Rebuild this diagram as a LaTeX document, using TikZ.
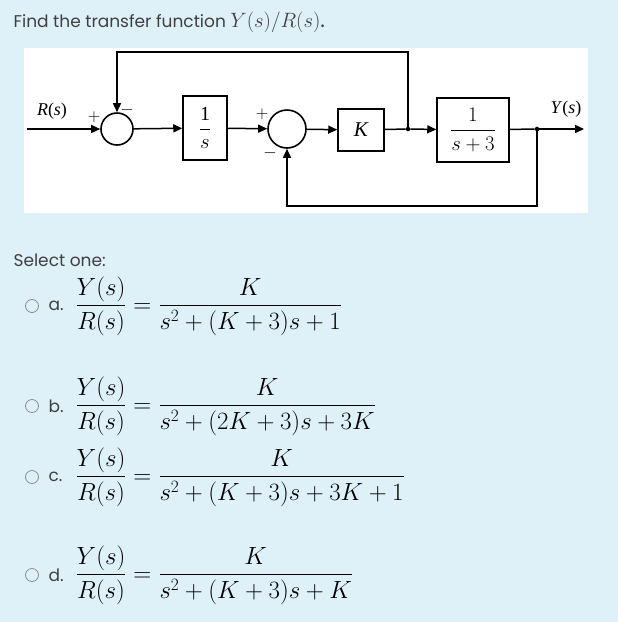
\documentclass[tikz,border=0pt]{standalone}
\usepackage{amsmath}
\usepackage{fontspec}
\newfontfamily\uif{Poppins}
\newfontfamily\tnr{Liberation Serif}
\usetikzlibrary{arrows.meta}
\definecolor{pagebg}{HTML}{DEF0F8}
\begin{document}
\begin{tikzpicture}[x=1pt,y=-1pt,
  blk/.style={draw,line width=1.5pt,fill=white,inner sep=0pt},
  sumc/.style={draw,circle,line width=1.6pt,minimum size=32pt,inner sep=0pt},
  sig/.style={line width=1.5pt,-{Triangle[length=9pt,width=8pt]}},
  wire/.style={line width=1.5pt},
  dotj/.style={circle,fill,inner sep=1.6pt},
  ui/.style={font=\uif\fontsize{17}{20}\selectfont,text=black!75,anchor=west},
  eq/.style={font=\fontsize{23}{27}\selectfont,anchor=west},
  lab/.style={font=\tnr\fontsize{18}{20}\selectfont},
  radio/.style={draw=black!45,circle,minimum size=13pt,inner sep=0pt,line width=0.8pt}]
\fill[pagebg] (0,0) rectangle (618,622);
\useasboundingbox (0,0) rectangle (618,622);
\fill[white] (24,48) rectangle (588,213);
\node[ui] (title) at (10,22) {Find the transfer function \fontsize{22}{24}\selectfont$Y(s)/R(s)$.};
% diagram
\coordinate (in) at (27,129);
\node[sumc] (s1) at (117,129) {};
\node[blk,minimum width=44pt,minimum height=64pt] (b1) at (205,128) {\tnr\fontsize{20}{22}\selectfont$\dfrac{\text{1}}{s}$};
\node[sumc,minimum size=38pt] (s2) at (287,129) {};
\node[blk,minimum width=46pt,minimum height=42pt] (bk) at (361,130) {\tnr\fontsize{21}{22}\selectfont\itshape K};
\node[dotj] (j1) at (408,129) {};
\node[blk,minimum width=72pt,minimum height=64pt] (b3) at (473,130) {\fontsize{21}{22}\selectfont$\dfrac{1}{s+3}$};
\node[dotj] (j2) at (537,129) {};
\coordinate (out) at (584,129);
\coordinate (t1) at (117,52); \coordinate (t2) at (408,52);
\coordinate (u1) at (287,206); \coordinate (u2) at (537,206);
\draw[sig] (in) -- (s1);
\draw[sig] (s1) -- (b1);
\draw[sig] (b1) -- (s2);
\draw[sig] (s2) -- (bk);
\draw[wire] (bk) -- (j1);
\draw[sig] (j1) -- (b3);
\draw[wire] (b3) -- (j2);
\draw[sig] (j2) -- (out);
\draw[sig] (j1) -- (t2) -- (t1) -- (s1);
\draw[sig] (j2) -- (u2) -- (u1) -- (s2);
\node[lab] (lr) at (52,111) {\textit{R}(\textit{s})};
\node[lab] (p1) at (94,117) {$+$};
\node[lab] (m1) at (127,110) {$-$};
\node[lab] (p2) at (262,114) {$+$};
\node[lab] (m2) at (270,153) {$-$};
\node[lab] (ly) at (566,109) {\textit{Y}(\textit{s})};
% question
\node[ui] (sel) at (10,260) {Select one:};
\node[radio] (ra) at (32,306) {};
\node[ui] (la) at (45,306) {a.};
\node[eq] (ea) at (72,306) {$\dfrac{Y(s)}{R(s)}=\dfrac{K}{s^2+(K+3)s+1}$};
\node[radio] (rb) at (32,406) {};
\node[ui] (lb) at (45,406) {b.};
\node[eq] (eb) at (72,406) {$\dfrac{Y(s)}{R(s)}=\dfrac{K}{s^2+(2K+3)s+3K}$};
\node[radio] (rc) at (32,477) {};
\node[ui] (lc) at (45,477) {c.};
\node[eq] (ec) at (72,477) {$\dfrac{Y(s)}{R(s)}=\dfrac{K}{s^2+(K+3)s+3K+1}$};
\node[radio] (rd) at (32,575) {};
\node[ui] (ld) at (45,575) {d.};
\node[eq] (ed) at (72,575) {$\dfrac{Y(s)}{R(s)}=\dfrac{K}{s^2+(K+3)s+K}$};
\end{tikzpicture}
\end{document}
